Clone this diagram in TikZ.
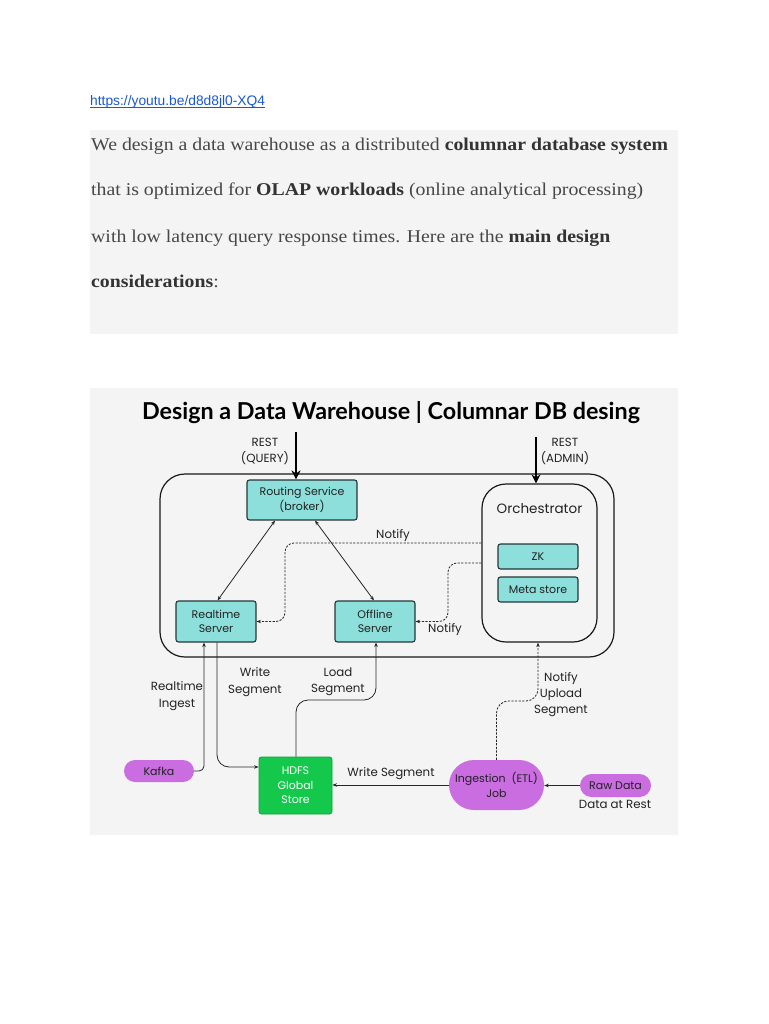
\documentclass[tikz,border=0pt]{standalone}
\usepackage{fontspec}
\setmainfont{Liberation Serif}
\newfontfamily\parafont[FakeStretch=1.1]{Liberation Serif}
\newfontfamily\diagfont{Poppins}
\newfontfamily\titlefont{Lato}
\newfontfamily\linkfont{Liberation Sans}
\usetikzlibrary{arrows.meta}
\definecolor{bggray}{HTML}{F4F4F4}
\definecolor{txtgray}{HTML}{474747}
\definecolor{boldgray}{HTML}{333333}
\definecolor{tealc}{HTML}{8CDFDA}
\definecolor{edgec}{HTML}{263636}
\definecolor{hgreen}{HTML}{14C84B}
\definecolor{purp}{HTML}{C96DE1}
\definecolor{linkblue}{HTML}{1A57D6}
\definecolor{lblc}{HTML}{222222}
\begin{document}
\begin{tikzpicture}[x=1pt,y=-1pt,
  tealbox/.style={draw=edgec, fill=tealc, line width=1.1pt, rounded corners=2.5pt,
    font=\diagfont\fontsize{11}{14.5}\selectfont, text=lblc, align=center, inner sep=0},
  pill/.style={fill=purp, draw=none, font=\diagfont\fontsize{11}{14.5}\selectfont, text=lblc, align=center, inner sep=0},
  lbl/.style={font=\diagfont\fontsize{11.8}{16.3}\selectfont, text=lblc, align=center, inner sep=0},
  conn/.style={line width=0.8pt, draw=black!85},
  dconn/.style={line width=0.8pt, draw=black!85, dash pattern=on 2.2pt off 1.4pt},
  tip/.style={-{Stealth[length=4.5pt,width=3.5pt]}},
  bitip/.style={{Stealth[length=4.5pt,width=3.5pt]}-{Stealth[length=4.5pt,width=3.5pt]}},
  para/.style={anchor=base west, inner sep=0, font=\parafont\fontsize{18}{20}\selectfont, text=txtgray},
]
\useasboundingbox (0,0) rectangle (768,1024);
\fill[white] (0,0) rectangle (768,1024);

% link
\node[anchor=base west, inner sep=0, font=\linkfont\fontsize{13.8}{16}\selectfont, text=linkblue] (link) at (90,106) {https://youtu.be/d8d8jl0-XQ4};
\draw[linkblue, line width=0.8pt] ([yshift=-1.8pt]link.base west) -- ([yshift=-1.8pt]link.base east);

% paragraph box
\fill[bggray] (90,130) rectangle (678,334);
\node[para] (l1) at (91,151) {We design a data warehouse as a distributed \textcolor{boldgray}{\textbf{columnar database system}}};
\node[para] (l2) at (91,196) {that is optimized for \textcolor{boldgray}{\textbf{OLAP workloads}} (online analytical processing)};
\node[para] (l3) at (91,242) {with low latency query response times. Here are the \textcolor{boldgray}{\textbf{main design}}};
\node[para] (l4) at (91,287) {\textcolor{boldgray}{\textbf{considerations}}:};

% diagram box
\fill[bggray] (90,388) rectangle (678,835);
\node[font=\titlefont\bfseries\fontsize{23.3}{25}\selectfont, text=black, inner sep=0] (title) at (391,413) {Design a Data Warehouse | Columnar DB desing};

% outer frame
\node[draw=black!90, line width=1.2pt, rounded corners=25pt, minimum width=454pt, minimum height=183pt, inner sep=0] (outer) at (387,565.5) {};

% orchestrator
\node[draw=black!90, line width=1.2pt, fill=bggray, rounded corners=24pt, minimum width=115pt, minimum height=158pt, inner sep=0] (orch) at (539.5,563) {};
\node[font=\diagfont\fontsize{13.5}{15}\selectfont, text=lblc, inner sep=0] (orchlbl) at (539.5,508.5) {Orchestrator};
\node[tealbox, minimum width=80pt, minimum height=25pt] (zk) at (538,556.5) {ZK};
\node[tealbox, minimum width=80pt, minimum height=25pt] (meta) at (538,589.5) {Meta store};

% servers
\node[tealbox, minimum width=110pt, minimum height=40pt] (routing) at (302,500) {Routing Service\\(broker)};
\node[tealbox, minimum width=80pt, minimum height=41pt] (realtime) at (216,621.5) {Realtime\\Server};
\node[tealbox, minimum width=80pt, minimum height=41pt] (offline) at (375,621.5) {Offline\\Server};

% bottom nodes
\node[draw=hgreen!80!black, line width=0.8pt, fill=hgreen, rounded corners=2.5pt, minimum width=73pt, minimum height=57pt, inner sep=0, align=center, text=white, font=\diagfont\fontsize{11}{14.5}\selectfont] (hdfs) at (295.5,785.5) {HDFS\\Global\\Store};
\node[pill, minimum width=70pt, minimum height=22pt, rounded corners=11pt] (kafka) at (159,771) {Kafka};
\node[pill, minimum width=95pt, minimum height=50pt, rounded corners=25pt] (etl) at (496.5,785) {Ingestion\ \ (ETL)\\Job};
\node[pill, minimum width=71pt, minimum height=23pt, rounded corners=11.5pt] (raw) at (615.5,785.5) {Raw Data};

% REST arrows
\coordinate (qtop) at (296,432);
\coordinate (atop) at (536,437);
\draw[line width=2.6pt, -{Stealth[length=9pt,width=9pt,inset=3pt]}] (qtop) -- (qtop |- routing.north);
\draw[line width=2.6pt, -{Stealth[length=9pt,width=9pt,inset=3pt]}] (atop) -- (atop |- orch.north);
\node[lbl] (restq) at (265,451.5) {REST\\(QUERY)};
\node[lbl] (resta) at (565,451.5) {REST\\(ADMIN)};

% routing <-> servers
\draw[conn, bitip] ([xshift=-27pt]routing.south) -- ([xshift=1.5pt]realtime.north);
\draw[conn, bitip] ([xshift=13pt]routing.south) -- ([xshift=-1pt]offline.north);

% notify dashed
\draw[dconn, tip, rounded corners=9pt] ([yshift=20pt]orch.west) -- (285,543) -- (285,621.5) -- (realtime.east);
\node[lbl] (notify1) at (393,536) {Notify};
\draw[dconn, tip, rounded corners=9pt] (orch.west) -- (448,563) -- (448,621.5) -- (offline.east);
\node[lbl] (notify2) at (445,630) {Notify};

% realtime ingest
\draw[conn, tip, rounded corners=5pt] (kafka.east) -- (204,771) -- (204,0 |- realtime.south);
\node[lbl] (ringest) at (177,696) {Realtime\\Ingest};

% write segment from realtime
\draw[conn, tip, rounded corners=12pt] ([xshift=1pt]realtime.south) -- (217,767) -- ([yshift=18.5pt]hdfs.west);
\node[lbl] (wseg1) at (255,682) {Write\\Segment};

% load segment
\draw[conn, tip, rounded corners=12pt] ([xshift=0.5pt]hdfs.north) -- (296,700) -- (376,700) -- (376,0 |- offline.south);
\node[lbl] (lseg) at (338,682) {Load\\Segment};

% etl -> hdfs, raw -> etl
\draw[conn, tip] (etl.west) -- (hdfs.east |- etl.west);
\node[lbl] (wseg2) at (391,774) {Write Segment};
\draw[conn, tip] (raw.west) -- (etl.east |- raw.west);
\node[lbl] (rest) at (615,804) {Data at Rest};

% notify upload segment
\draw[dconn, tip, rounded corners=12pt] (etl.north) -- (496.5,701) -- (538,701) -- (538,0 |- orch.south);
\node[lbl] (nup) at (561,694.5) {Notify\\Upload\\Segment};
\end{tikzpicture}
\end{document}
